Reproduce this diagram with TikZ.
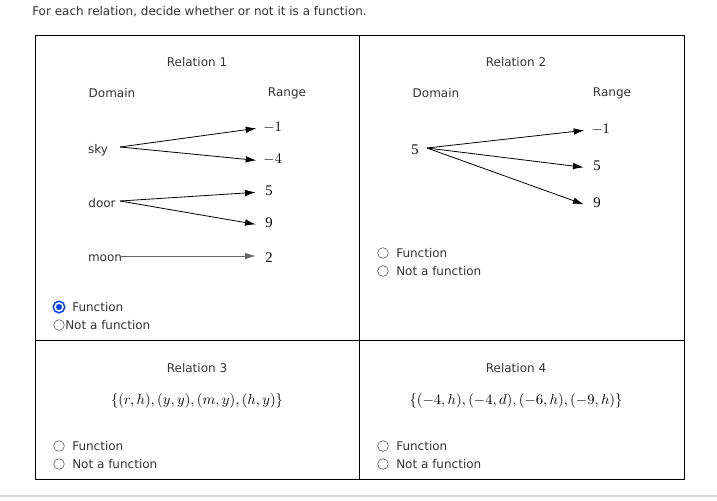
\documentclass[tikz,border=0pt]{standalone}
\usepackage{fontspec}
\setsansfont{DejaVu Sans}
\setmainfont{Liberation Serif}
\usetikzlibrary{arrows.meta}
\begin{document}
\begin{tikzpicture}[x=0.75pt,y=-0.75pt,
  lbl/.style={font=\sffamily\fontsize{9}{11}\selectfont,text=black!80,inner sep=0pt},
  num/.style={font=\fontsize{11}{13}\selectfont,inner sep=0pt},
  arr/.style={-{Latex[length=8pt,width=5pt]},line width=0.6pt},
  radio/.style={circle,draw=black!60,line width=0.5pt,minimum size=8pt,inner sep=0pt},
  box/.style={draw=black,line width=0.6pt}]
\useasboundingbox (0,0) rectangle (717,500);
\node[lbl,anchor=west] (hdr) at (32,12) {For each relation, decide whether or not it is a function.};
\draw[box] (35,35) rectangle (684,479);
\draw[box] (359,35) -- (359,479);
\draw[box] (35,340) -- (684,340);
\draw[black!15,line width=1pt] (0,496) -- (717,496);
% Relation 1
\node[lbl] (t1) at (197,62) {Relation 1};
\node[lbl] (d1) at (112,93) {Domain};
\node[lbl] (r1) at (287,93) {Range};
\node[lbl] (sky) at (98,150) {sky};
\node[lbl] (door) at (102,203) {door};
\node[lbl] (moon) at (105,258) {moon};
\coordinate (skyo) at (120,147);
\coordinate (dooro) at (120,201);
\coordinate (moono) at (120,256);
\node[num,anchor=west] (m1) at (263,127) {$-1$};
\node[num,anchor=west] (m4) at (263,159) {$-4$};
\node[num,anchor=west] (p5) at (265,191) {5};
\node[num,anchor=west] (p9) at (265,223) {9};
\node[num,anchor=west] (p2) at (265,258) {2};
\draw[arr] (skyo) -- ([xshift=-5pt,yshift=-1pt]m1.west);
\draw[arr] (skyo) -- ([xshift=-5pt,yshift=-1pt]m4.west);
\draw[arr] (dooro) -- ([xshift=-7pt,yshift=-1pt]p5.west);
\draw[arr] (dooro) -- ([xshift=-7pt,yshift=-1pt]p9.west);
\draw[arr,black!60] (moono) -- ([xshift=-7pt]moono -| p2.west);
\node[radio,draw=blue!75!cyan,fill=blue!75!cyan,line width=1.2pt,double=white,double distance=1.2pt,minimum size=6pt] (f1) at (59,307) {};
\node[lbl,anchor=west] (f1t) at (72,307) {Function};
\node[radio] (n1) at (59,325) {};
\node[lbl,anchor=west] (n1t) at (65,325) {Not a function};
% Relation 2
\node[lbl] (t2) at (516,62) {Relation 2};
\node[lbl] (d2) at (436,93) {Domain};
\node[lbl] (r2) at (612,93) {Range};
\node[num] (five) at (415,150) {5};
\coordinate (fiveo) at (427,148);
\node[num,anchor=west] (q1) at (591,129) {$-1$};
\node[num,anchor=west] (q5) at (593,166) {5};
\node[num,anchor=west] (q9) at (593,203) {9};
\draw[arr] (fiveo) -- ([xshift=-5pt,yshift=-1pt]q1.west);
\draw[arr] (fiveo) -- ([xshift=-7pt,yshift=-1pt]q5.west);
\draw[arr] (fiveo) -- ([xshift=-7pt,yshift=-1pt]q9.west);
\node[radio] (f2) at (383,253) {};
\node[lbl,anchor=west] (f2t) at (396,253) {Function};
\node[radio] (n2) at (383,271) {};
\node[lbl,anchor=west] (n2t) at (396,271) {Not a function};
% Relation 3
\node[lbl] (t3) at (197,368) {Relation 3};
\node[num] (s3) at (197,401) {$\{(r,h),(y,y),(m,y),(h,y)\}$};
\node[radio] (f3) at (59,446) {};
\node[lbl,anchor=west] (f3t) at (72,446) {Function};
\node[radio] (n3) at (59,464) {};
\node[lbl,anchor=west] (n3t) at (72,464) {Not a function};
% Relation 4
\node[lbl] (t4) at (516,368) {Relation 4};
\node[num] (s4) at (516,401) {$\{(-4,h),(-4,d),(-6,h),(-9,h)\}$};
\node[radio] (f4) at (383,446) {};
\node[lbl,anchor=west] (f4t) at (396,446) {Function};
\node[radio] (n4) at (383,464) {};
\node[lbl,anchor=west] (n4t) at (396,464) {Not a function};
\end{tikzpicture}
\end{document}
